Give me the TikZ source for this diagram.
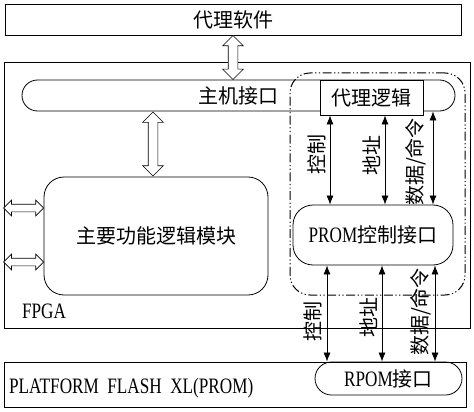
\documentclass[tikz,border=0pt]{standalone}
\usepackage{fontspec}
\setmainfont[FakeStretch=0.78, Scale=1.1]{Liberation Serif}
\newfontfamily\cjk{Noto Sans CJK SC}
\usetikzlibrary{arrows.meta,shapes.arrows,calc}

\begin{document}
\begin{tikzpicture}[x=1pt, y=-1pt,
    every node/.style={font=\fontsize{20}{22}\selectfont, inner sep=0pt},
    box/.style={draw, line width=0.8pt},
    pill/.style={box, rounded corners=#1},
    hollow/.style={double arrow, draw, line width=0.7pt, fill=white, inner xsep=0pt, inner ysep=4.5pt, double arrow head extend=5.5pt},
    sig/.style={line width=0.7pt, {Latex[length=9pt,width=7pt]}-{Latex[length=9pt,width=7pt]}}]
    \useasboundingbox (0,0) rectangle (474,412);

    % Outer blocks
    \node[box, minimum width=456, minimum height=31] (soft) at (233,19.5) {\cjk 代理软件};
    \node[box, minimum width=466, minimum height=266] (fpga) at (237,195) {};
    \node[box, minimum width=462, minimum height=45] (flash) at (235,384.5) {};
    \node[anchor=west] (flashlbl) at (9,388) {PLATFORM\ \ FLASH\ \ XL(PROM)};
    \node (fpgalbl) at (44,311) {FPGA};

    % Agent region (dash dot dot)
    \node[draw, line width=1pt, dash pattern=on 9pt off 2.5pt on 1.2pt off 2.5pt on 1.2pt off 2.5pt,
          rounded corners=20, minimum width=175, minimum height=222] (zone) at (377.5,184) {};

    % Inner blocks
    \node[pill=15.5, minimum width=433, minimum height=31] (host) at (238.5,95.5) {\cjk 主机接口};
    \node[box, fill=white, minimum width=103, minimum height=35] (proxy) at (371.5,97.5) {\cjk 代理逻辑};
    \node[pill=20, minimum width=224, minimum height=118] (mainmod) at (156,236) {\cjk 主要功能逻辑模块};
    \node[pill=20, minimum width=160, minimum height=60] (promctl) at (373,235) {PROM{\cjk 控制接口}};
    \node[pill=16.5, minimum width=147, minimum height=33] (rpom) at (388.5,378.5) {RPOM{\cjk 接口}};

    % Hollow bus arrows
    \path (soft.south) -- (soft.south |- host.north)
        node[hollow, midway, rotate=90, minimum height=44] (bus1) {};
    \coordinate (b2) at (153,0);
    \path (host.south -| b2) -- (mainmod.north -| b2)
        node[hollow, midway, rotate=90, minimum height=64] (bus2) {};
    \coordinate (l1) at ($(mainmod.west)+(0,-28)$);
    \coordinate (l2) at ($(mainmod.west)+(0,26)$);
    \path (fpga.west |- l1) -- (l1)
        node[hollow, midway, minimum height=40, inner ysep=3.5pt, double arrow head extend=4pt] (io1) {};
    \path (fpga.west |- l2) -- (l2)
        node[hollow, midway, minimum height=40, inner ysep=3.5pt, double arrow head extend=4pt] (io2) {};

    % Signal lines
    \coordinate (u1) at (330,0);
    \coordinate (u2) at (385,0);
    \coordinate (u3) at (433,0);
    \draw[sig] (proxy.south -| u1) -- (promctl.north -| u1);
    \draw[sig] (proxy.south -| u2) -- (promctl.north -| u2);
    \draw[sig] (host.south -| u3) -- (promctl.north -| u3);
    \coordinate (d1) at (327,0);
    \coordinate (d2) at (382,0);
    \coordinate (d3) at (435,0);
    \draw[sig] (promctl.south -| d1) -- (rpom.north -| d1);
    \draw[sig] (promctl.south -| d2) -- (rpom.north -| d2);
    \draw[sig] (promctl.south -| d3) -- (rpom.north -| d3);

    % Signal labels
    \node[rotate=90] (ctlup) at (317,154) {\cjk 控制};
    \node[rotate=90] (addrup) at (372,155) {\cjk 地址};
    \node[rotate=90] (dataup) at (416,162) {\cjk 数据/命令};
    \node[rotate=90] (ctldn) at (313,321) {\cjk 控制};
    \node[rotate=90] (addrdn) at (369,317) {\cjk 地址};
    \node[rotate=90] (datadn) at (421,312) {\cjk 数据/命令};
\end{tikzpicture}
\end{document}
